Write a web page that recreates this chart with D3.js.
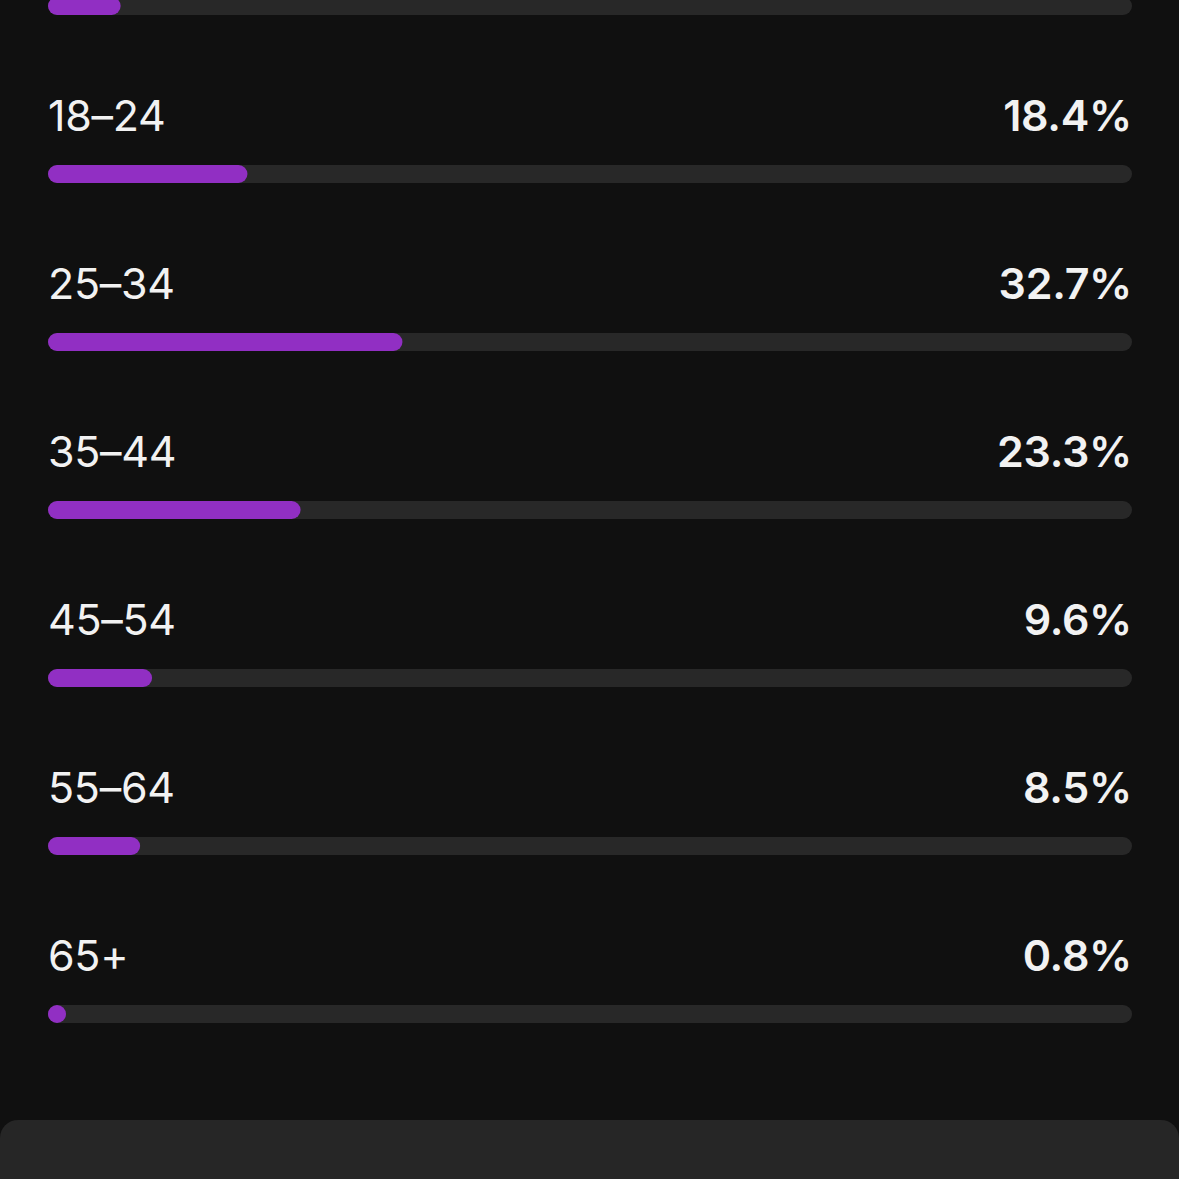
<!DOCTYPE html>
<html>
<head>
<meta charset="utf-8">
<script src="https://cdn.jsdelivr.net/npm/d3@7"></script>
<style>
  html, body { margin: 0; padding: 0; background: #101010; }
  svg { display: block; }
</style>
</head>
<body>
<div id="chart"></div>
<script>
// age groups and share of audience (%)
var ageGroups = ["13–17", "18–24", "25–34", "35–44", "45–54", "55–64", "65+"];
var shares = [6.7, 18.4, 32.7, 23.3, 9.6, 8.5, 0.8];
var shareLabels = ["6.7%", "18.4%", "32.7%", "23.3%", "9.6%", "8.5%", "0.8%"];

var svgWidth = 1179;
var svgHeight = 1179;

var margin = { left: 48, right: 48 };
var barHeight = 18;
var rowStep = 168;

var rows = ageGroups.map(function(g, i) {
  return { group: g, share: shares[i], label: shareLabels[i] };
});

var svg = d3.select("#chart").append("svg")
  .attr("width", svgWidth)
  .attr("height", svgHeight);

svg.append("rect")
  .attr("width", svgWidth)
  .attr("height", svgHeight)
  .attr("fill", "#101010");

// x scale: 0-100% across the track
var xScale = d3.scaleLinear()
  .domain([0, 100])
  .range([margin.left, svgWidth - margin.right + 1]);

// y scale: one band per age group, first row mostly scrolled off the top
var yScale = d3.scaleBand()
  .domain(ageGroups)
  .range([-3, -3 + rowStep * ageGroups.length])
  .padding(0);

var rowGroup = svg.selectAll("g.row")
  .data(rows)
  .enter()
  .append("g")
  .attr("class", "row")
  .attr("transform", d => `translate(0, ${yScale(d.group)})`);

// background tracks
rowGroup.append("rect")
  .attr("x", xScale(0))
  .attr("y", 0)
  .attr("width", xScale(100) - xScale(0))
  .attr("height", barHeight)
  .attr("rx", barHeight / 2)
  .attr("fill", "#282828");

// value bars (never narrower than a dot)
rowGroup.append("rect")
  .attr("x", xScale(0))
  .attr("y", 0)
  .attr("width", d => Math.max(barHeight, xScale(d.share) - xScale(0)))
  .attr("height", barHeight)
  .attr("rx", barHeight / 2)
  .attr("fill", "#912fc3");

// group labels
rowGroup.append("text")
  .attr("x", margin.left)
  .attr("y", -34)
  .attr("fill", "#f2f2f2")
  .style("font-family", "Inter, 'Noto Sans', sans-serif")
  .style("font-size", "43px")
  .style("letter-spacing", "-0.3px")
  .style("font-weight", 400)
  .text(d => d.group);

// value labels
rowGroup.append("text")
  .attr("x", svgWidth - margin.right + 1)
  .attr("y", -34)
  .attr("text-anchor", "end")
  .attr("fill", "#f2f2f2")
  .style("font-family", "Inter, 'Noto Sans', sans-serif")
  .style("font-size", "43px")
  .style("letter-spacing", "-0.3px")
  .style("font-weight", 600)
  .text(d => d.label);

// bottom card
svg.append("rect")
  .attr("x", 0)
  .attr("y", 1120)
  .attr("width", svgWidth)
  .attr("height", 100)
  .attr("rx", 18)
  .attr("fill", "#262626");
</script>
</body>
</html>
